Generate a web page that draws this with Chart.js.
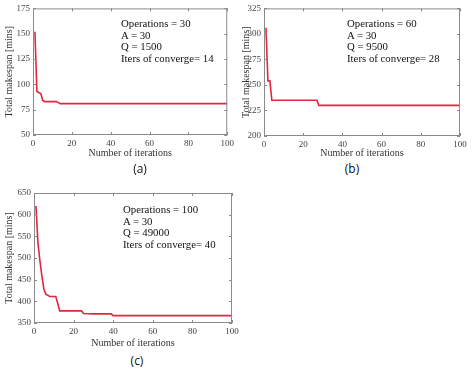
<!DOCTYPE html>
<html>
<head>
<meta charset="utf-8">
<script src="https://cdn.jsdelivr.net/npm/chart.js@4.4.1/dist/chart.umd.min.js"></script>
<style>
  body { margin: 0; background: #fff; width: 474px; height: 375px; position: relative; overflow: hidden; }
  .box { position: absolute; }
  .note { position: absolute; font-family: 'Liberation Serif', serif; font-size: 10.8px; line-height: 11.7px; color: #111; white-space: nowrap; }
  .cap { position: absolute; font-family: 'Open Sans', sans-serif; font-size: 12px; color: #111; transform: translateX(-50%); }
</style>
</head>
<body>
<div class="box" style="left:0;top:0;width:237px;height:160px"><canvas id="chartA"></canvas></div>
<div class="box" style="left:237px;top:0;width:237px;height:160px"><canvas id="chartB"></canvas></div>
<div class="box" style="left:0;top:180px;width:250px;height:170px"><canvas id="chartC"></canvas></div>

<div class="note" style="left:121px;top:18px">Operations = 30<br>A = 30<br>Q = 1500<br>Iters of converge= 14</div>
<div class="note" style="left:347px;top:18px">Operations = 60<br>A = 30<br>Q = 9500<br>Iters of converge= 28</div>
<div class="note" style="left:123px;top:204px">Operations = 100<br>A = 30<br>Q = 49000<br>Iters of converge= 40</div>

<div class="cap" style="left:140px;top:160px">(a)</div>
<div class="cap" style="left:352px;top:160px">(b)</div>
<div class="cap" style="left:137px;top:352px">(c)</div>

<script>
// iteration / makespan change points
const iterA = [1, 2, 3, 4, 5, 6, 12, 13, 14, 100];
const spanA = [152, 93, 92, 91, 84, 83, 83, 82, 81, 81];

const iterB = [1, 2, 3, 4, 27, 28, 100];
const spanB = [306, 254, 254, 235, 235, 230, 230];

const iterC = [1, 2, 3, 4, 5, 6, 7, 8, 11, 12, 13, 24, 25, 30, 39, 40, 100];
const spanC = [620, 535, 493, 458, 428, 416, 414, 411, 411, 395, 378, 378, 372, 371, 371, 367, 367];

const xTicks = [0, 20, 40, 60, 80, 100];

const axisGray = '#8a8a8a';
const labelColor = '#444';
const lineRed = '#e3263f';

// box frame + inward tick marks, matlab style
const frame = {
    id: 'frame',
    afterDraw(chart) {
        const { ctx, chartArea: a, scales } = chart;
        ctx.save();
        ctx.strokeStyle = axisGray;
        ctx.lineWidth = 1;
        ctx.strokeRect(a.left + 0.5, a.top + 0.5, a.right - a.left - 1, a.bottom - a.top - 1);
        ctx.beginPath();
        scales.x.ticks.forEach(t => {
            const px = Math.round(scales.x.getPixelForValue(t.value)) + 0.5;
            ctx.moveTo(px, a.bottom); ctx.lineTo(px, a.bottom - 3);
            ctx.moveTo(px, a.top); ctx.lineTo(px, a.top + 3);
        });
        scales.y.ticks.forEach(t => {
            const py = Math.round(scales.y.getPixelForValue(t.value)) + 0.5;
            ctx.moveTo(a.left, py); ctx.lineTo(a.left + 3, py);
            ctx.moveTo(a.right, py); ctx.lineTo(a.right - 3, py);
        });
        ctx.stroke();
        ctx.restore();
    }
};

function makeChart(id, iters, spans, yMin, yMax, yStep, pad, yWidth, xHeight) {
    const font = { family: "'Liberation Serif', serif", size: 9 };
    new Chart(document.getElementById(id), {
        type: 'line',
        data: {
            datasets: [{
                data: iters.map((it, i) => ({ x: it, y: spans[i] })),
                borderColor: lineRed,
                borderWidth: 1.6,
                pointRadius: 0,
                tension: 0,
                fill: false
            }]
        },
        options: {
            responsive: true,
            maintainAspectRatio: false,
            animation: false,
            layout: { padding: pad },
            plugins: { legend: { display: false }, tooltip: { enabled: false } },
            scales: {
                x: {
                    type: 'linear', min: 0, max: 100,
                    afterBuildTicks: s => { s.ticks = xTicks.map(v => ({ value: v })); },
                    afterFit: s => { s.height = xHeight; },
                    grid: { display: false, drawTicks: false },
                    border: { display: false },
                    ticks: { font, color: labelColor, padding: 3, maxRotation: 0 },
                    title: { display: true, text: 'Number of iterations', font: { family: font.family, size: 10 }, color: '#333', padding: { top: 0, bottom: 1 } }
                },
                y: {
                    min: yMin, max: yMax,
                    afterFit: s => { s.width = yWidth; },
                    grid: { display: false, drawTicks: false },
                    border: { display: false },
                    ticks: { stepSize: yStep, font, color: labelColor, padding: 3 },
                    title: { display: true, text: 'Total makespan [mins]', font: { family: font.family, size: 10 }, color: '#333', padding: { top: 3, bottom: 0 } }
                }
            }
        },
        plugins: [frame]
    });
}

makeChart('chartA', iterA, spanA, 50, 175, 25, { top: 7, right: 8, left: 0, bottom: 0 }, 33, 25);
makeChart('chartB', iterB, spanB, 200, 325, 25, { top: 7, right: 14, left: 0, bottom: 0 }, 27, 24);
makeChart('chartC', iterC, spanC, 350, 650, 50, { top: 13, right: 18, left: 0, bottom: 0 }, 34, 27);
</script>
</body>
</html>
